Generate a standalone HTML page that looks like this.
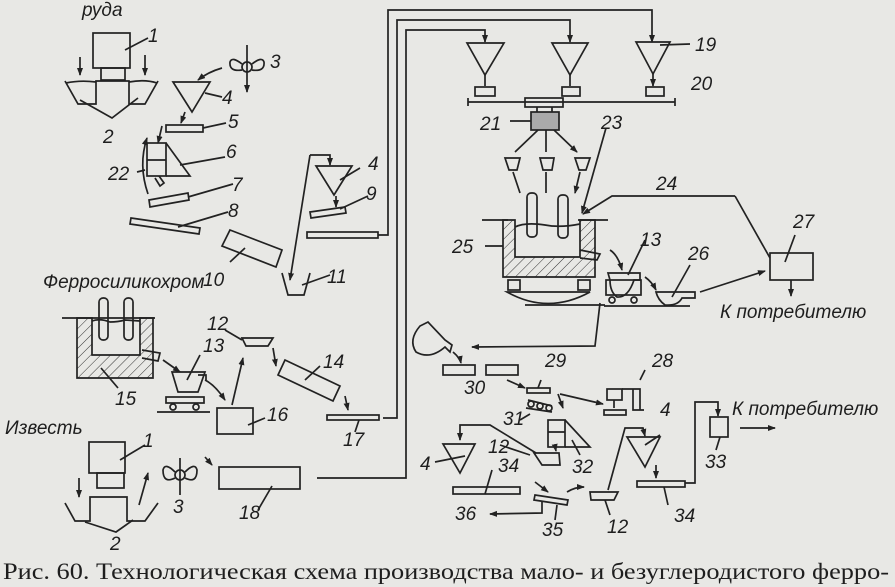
<!DOCTYPE html>
<html><head><meta charset="utf-8"><style>
html,body{margin:0;padding:0;background:#e8e8e5;}
svg{display:block}
.t{font-family:"Liberation Sans","DejaVu Sans",sans-serif;font-style:italic;font-size:19px;fill:#1e1e1e}
.c{font-family:"Liberation Serif","DejaVu Serif",serif;font-size:23px;fill:#1e1e1e}
</style></head><body>
<svg width="895" height="587" viewBox="0 0 895 587" xmlns="http://www.w3.org/2000/svg">
<defs>
<marker id="a" markerWidth="8" markerHeight="8" refX="7" refY="3" orient="auto" markerUnits="userSpaceOnUse"><path d="M0,0 L8,3 L0,6 Z" fill="#222"/></marker>
<pattern id="h" width="7" height="7" patternUnits="userSpaceOnUse" patternTransform="rotate(45)"><line x1="0" y1="0" x2="0" y2="7" stroke="#333" stroke-width="1"/></pattern>
</defs>
<rect width="895" height="587" fill="#e8e8e5"/>
<g fill="none" stroke="#222" stroke-width="1.7">
<rect x="93" y="33" width="37" height="35"/><rect x="101" y="68" width="24" height="12"/>
<path d="M65,81 L78,104 L96,104 L96,81 L129,81 L129,104 L145,104 L158,81"/>
<path d="M66,83 Q80,80 96,82 M129,82 Q145,79 157,83"/>
<path d="M80,100 L112,118 L138,98"/>
<path d="M125,50 L148,38"/>
<path d="M80,57 L80,75" marker-end="url(#a)"/><path d="M145,55 L145,75" marker-end="url(#a)"/>
<circle cx="247" cy="67" r="5"/><path d="M242,64 Q232,56 230,62 Q229,72 242,70 M252,64 Q262,56 264,62 Q265,72 252,70"/>
<path d="M247,45 L247,92" marker-end="url(#a)"/>
<path d="M222,68 Q208,72 198,80" marker-end="url(#a)"/>
<path d="M173,82 L210,82 L192,112 Z"/><path d="M205,93 L222,97"/>
<path d="M185,112 L181,123" marker-end="url(#a)"/>
<rect x="166" y="125" width="37" height="7"/><path d="M203,128 L226,123"/>
<path d="M162,126 L158,143" marker-end="url(#a)"/>
<rect x="147" y="143" width="19" height="33"/><path d="M147,160 L166,160 M166,143 L190,176 L166,176"/>
<path d="M155,178 L160,186 L164,183 L159,176"/>
<path d="M180,165 L225,157 M137,172 L145,170"/>
<path d="M148,194 Q138,165 147,138" marker-end="url(#a)"/>
<path d="M149,200 L188,193 L189,200 L150,207 Z"/><path d="M188,197 L233,184"/>
<path d="M131,218 L200,228 L199,234 L130,224 Z"/><path d="M178,227 L228,212"/>
<path d="M230,230 L282,250 L276,267 L222,246 Z"/><path d="M230,262 L245,248"/>
<path d="M282,273 L288,295 L304,295 L310,273"/><path d="M302,285 L330,275"/>
<path d="M310,155 L290,280" marker-end="url(#a)"/>
<path d="M310,155 L330,155 L330,165" marker-end="url(#a)"/>
<path d="M316,166 L352,166 L334,195 Z"/><path d="M340,180 L360,168"/>
<path d="M336,196 L336,207" marker-end="url(#a)"/>
<path d="M310,212 L345,207 L346,213 L311,218 Z"/><path d="M340,209 L368,196"/>
<rect x="307" y="232" width="71" height="6"/>
<path d="M378,235 L388,235 L388,10 L652,10 L652,42" marker-end="url(#a)"/>
<path d="M383,418 L397,418 L397,20 L570,20 L570,42" marker-end="url(#a)"/>
<path d="M317,478 L406,478 L406,30 L485,30 L485,42" marker-end="url(#a)"/>
<path d="M467,43 L504,43 L485,75 Z M552,43 L588,43 L570,75 Z M636,42 L670,42 L653,74 Z"/>
<path d="M485,75 L485,86 M570,75 L570,86 M653,74 L653,86" marker-end="url(#a)"/>
<rect x="475" y="87" width="20" height="9"/><rect x="562" y="87" width="18" height="9"/><rect x="646" y="87" width="18" height="9"/>
<path d="M468,102 L675,102 M468,98 L468,106 M675,98 L675,106"/>
<rect x="525" y="98" width="38" height="9"/><path d="M537,107 L537,112 M552,107 L552,112"/>
<rect x="531" y="112" width="28" height="18" fill="#aaa"/>
<path d="M510,121 L531,121 M660,45 L690,44"/>
<path d="M538,130 L515,152 M546,130 L546,152 M554,130 L577,152" marker-end="url(#a)"/>
<path d="M505,158 L520,158 L517,170 L509,170 Z M540,158 L554,158 L552,170 L543,170 Z M575,158 L590,158 L586,170 L579,170 Z"/>
<path d="M513,172 L520,193 M546,172 L546,193 M580,172 L575,193" marker-end="url(#a)"/>
<rect x="527" y="193" width="10" height="44" rx="4"/><rect x="558" y="195" width="10" height="43" rx="4"/>
<path d="M606,128 L582,213" marker-end="url(#a)"/>
<path d="M735,196 L612,196 L583,214" marker-end="url(#a)"/>
<path d="M735,196 L770,258"/>
<path d="M482,220 L508,220 M578,220 L608,220"/>
<path d="M503,220 L503,277 L595,277 L595,220 L580,220 L580,257 L515,257 L515,220 Z" fill="url(#h)"/>
<path d="M515,227 Q525,222 545,225 Q560,228 580,224"/>
<path d="M485,246 L503,246"/>
<path d="M580,250 L600,254 L597,260 L580,258"/>
<rect x="508" y="280" width="12" height="10"/><rect x="578" y="280" width="12" height="10"/>
<path d="M507,292 Q548,315 590,292 Z"/><path d="M525,305 L605,305"/>
<path d="M610,250 Q618,255 622,270" marker-end="url(#a)"/>
<path d="M608,273 L640,273 L640,280 L634,280 Q628,298 617,297 Q610,292 610,280 Z"/>
<rect x="606" y="280" width="35" height="15"/><circle cx="612" cy="300" r="3"/><circle cx="634" cy="300" r="3"/>
<path d="M604,306 L690,306"/><path d="M628,275 L645,240"/>
<path d="M645,277 Q652,282 656,290" marker-end="url(#a)"/>
<path d="M656,292 L695,292 L695,298 L682,298 Q678,306 665,305 Q658,300 656,292 Z"/><path d="M672,297 L690,265"/>
<path d="M700,292 L765,271" marker-end="url(#a)"/>
<rect x="770" y="253" width="43" height="27"/><path d="M785,262 L795,235"/>
<path d="M791,280 L791,296" marker-end="url(#a)"/>
<path d="M600,303 L595,346 L472,347" marker-end="url(#a)"/>
<path d="M445,347 Q430,360 416,352 Q408,340 420,326 L428,322 L445,340 L452,345 L450,352 Z"/>
<path d="M453,352 Q460,358 461,363" marker-end="url(#a)"/>
<rect x="443" y="365" width="32" height="10"/><rect x="486" y="365" width="32" height="10"/>
<path d="M507,380 L525,388" marker-end="url(#a)"/>
<rect x="527" y="388" width="23" height="5"/><path d="M538,388 L541,380"/>
<circle cx="531" cy="404" r="3"/><circle cx="540" cy="406" r="3"/><circle cx="549" cy="408" r="3"/>
<path d="M528,400 L552,406 M526,408 L552,412 M530,414 L520,420"/>
<path d="M558,394 L563,408" marker-end="url(#a)"/>
<path d="M560,394 L603,404" marker-end="url(#a)"/>
<rect x="548" y="420" width="17" height="27"/><path d="M548,432 L565,432 M565,420 L590,447 L565,447"/><path d="M572,440 L580,455"/>
<rect x="607" y="389" width="15" height="11"/><path d="M622,389 L640,389 L640,410 M633,389 L633,410 L644,410 M614,400 L614,408"/>
<rect x="604" y="410" width="22" height="5"/><path d="M640,380 L645,370"/>
<path d="M534,453 L559,453 L560,465 L542,465 Z"/><path d="M555,446 L556,451" marker-end="url(#a)"/>
<path d="M536,453 L490,425 L460,425 L460,440" marker-end="url(#a)"/>
<path d="M530,455 L500,445"/>
<path d="M443,444 L475,444 L460,473 Z"/><path d="M435,462 L465,456"/>
<rect x="453" y="487" width="67" height="7"/><path d="M485,494 L492,470"/>
<path d="M535,482 L548,492" marker-end="url(#a)"/>
<path d="M535,495 L568,500 L567,505 L534,500 Z"/>
<path d="M542,502 L542,513 L490,514" marker-end="url(#a)"/><path d="M557,505 L555,520"/>
<path d="M567,492 Q575,487 584,487" marker-end="url(#a)"/>
<path d="M590,492 L618,492 L614,500 L591,500 Z"/><path d="M605,500 L610,515"/>
<path d="M608,490 L625,428 L643,428 L645,436" marker-end="url(#a)"/>
<path d="M627,437 L660,437 L645,467 Z"/><path d="M645,445 L660,435"/>
<path d="M656,465 L656,478" marker-end="url(#a)"/>
<rect x="637" y="481" width="48" height="6"/><path d="M664,487 L668,505"/>
<path d="M685,483 L695,483 L695,402 L718,402 L718,416" marker-end="url(#a)"/>
<rect x="710" y="417" width="18" height="20"/><path d="M720,437 L716,450"/>
<path d="M740,428 L775,428" marker-end="url(#a)"/>
<path d="M62,318 L155,318"/>
<path d="M77,318 L77,378 L153,378 L153,318 L140,318 L140,355 L92,355 L92,318 Z" fill="url(#h)"/>
<path d="M92,321 Q100,318 110,322 Q118,322 125,320 L140,321"/>
<rect x="99" y="298" width="9" height="42" rx="4"/><rect x="124" y="298" width="9" height="42" rx="4"/>
<path d="M101,368 L118,388"/>
<path d="M142,350 L160,353 L158,361 L142,358"/>
<path d="M163,360 L180,372" marker-end="url(#a)"/>
<path d="M172,372 L205,372 L198,392 L178,392 Z M198,375 L206,375 L206,380"/>
<rect x="166" y="397" width="38" height="6"/><circle cx="173" cy="407" r="3"/><circle cx="196" cy="407" r="3"/><path d="M157,412 L210,412"/>
<path d="M187,380 L200,355"/>
<path d="M205,380 Q215,385 225,400" marker-end="url(#a)"/>
<rect x="217" y="408" width="36" height="26"/><path d="M248,425 L265,418"/>
<path d="M232,405 L243,358" marker-end="url(#a)"/>
<path d="M242,338 L273,338 L268,346 L246,346 Z"/><path d="M242,340 L225,330"/>
<path d="M273,348 L276,366" marker-end="url(#a)"/>
<path d="M285,360 L340,386 L333,401 L278,375 Z"/><path d="M305,380 L320,366"/>
<path d="M345,396 L348,410" marker-end="url(#a)"/>
<rect x="327" y="415" width="52" height="5"/><path d="M359,420 L355,432"/>
<rect x="89" y="442" width="36" height="31"/><rect x="97" y="473" width="27" height="15"/>
<path d="M65,503 L75,521 L90,521 L90,497 L127,497 L127,521 L145,521 L158,503"/>
<path d="M85,522 L116,532 L133,520 M120,460 L145,445"/>
<path d="M79,478 L79,497" marker-end="url(#a)"/><path d="M139,505 L148,473" marker-end="url(#a)"/>
<circle cx="180" cy="475" r="5"/><path d="M175,472 Q165,462 163,470 Q163,484 175,478 M185,472 Q195,462 197,470 Q197,484 185,478 M180,458 L180,495"/>
<path d="M205,457 L212,465" marker-end="url(#a)"/>
<rect x="219" y="467" width="81" height="22"/><path d="M272,486 L258,510"/>
</g>
<g class="t">
<text x="82" y="16">руда</text>
<text x="148" y="42">1</text><text x="103" y="143">2</text><text x="270" y="68">3</text>
<text x="222" y="104">4</text><text x="228" y="128">5</text><text x="226" y="158">6</text>
<text x="108" y="180">22</text><text x="232" y="191">7</text><text x="228" y="217">8</text>
<text x="368" y="170">4</text><text x="366" y="200">9</text><text x="327" y="283">11</text>
<text x="43" y="288">Ферросиликохром</text><text x="203" y="286">10</text>
<text x="695" y="51">19</text><text x="691" y="90">20</text><text x="480" y="130">21</text>
<text x="601" y="129">23</text><text x="656" y="190">24</text><text x="452" y="253">25</text>
<text x="640" y="246">13</text><text x="688" y="260">26</text><text x="793" y="228">27</text>
<text x="720" y="318">К потребителю</text>
<text x="464" y="394">30</text><text x="545" y="367">29</text><text x="652" y="367">28</text>
<text x="503" y="425">31</text><text x="572" y="473">32</text><text x="660" y="416">4</text>
<text x="732" y="415">К потребителю</text><text x="705" y="468">33</text>
<text x="420" y="470">4</text><text x="488" y="453">12</text><text x="498" y="472">34</text>
<text x="455" y="520">36</text><text x="542" y="536">35</text><text x="607" y="533">12</text>
<text x="674" y="522">34</text>
<text x="207" y="330">12</text><text x="203" y="352">13</text><text x="323" y="368">14</text>
<text x="115" y="405">15</text><text x="267" y="421">16</text><text x="343" y="446">17</text>
<text x="5" y="434">Известь</text><text x="143" y="447">1</text><text x="173" y="513">3</text>
<text x="239" y="519">18</text><text x="110" y="550">2</text>
</g>
<text class="c" x="3" y="579" textLength="886" lengthAdjust="spacingAndGlyphs">Рис. 60. Технологическая схема производства  мало- и безуглеродистого ферро-</text>
</svg>
</body></html>
